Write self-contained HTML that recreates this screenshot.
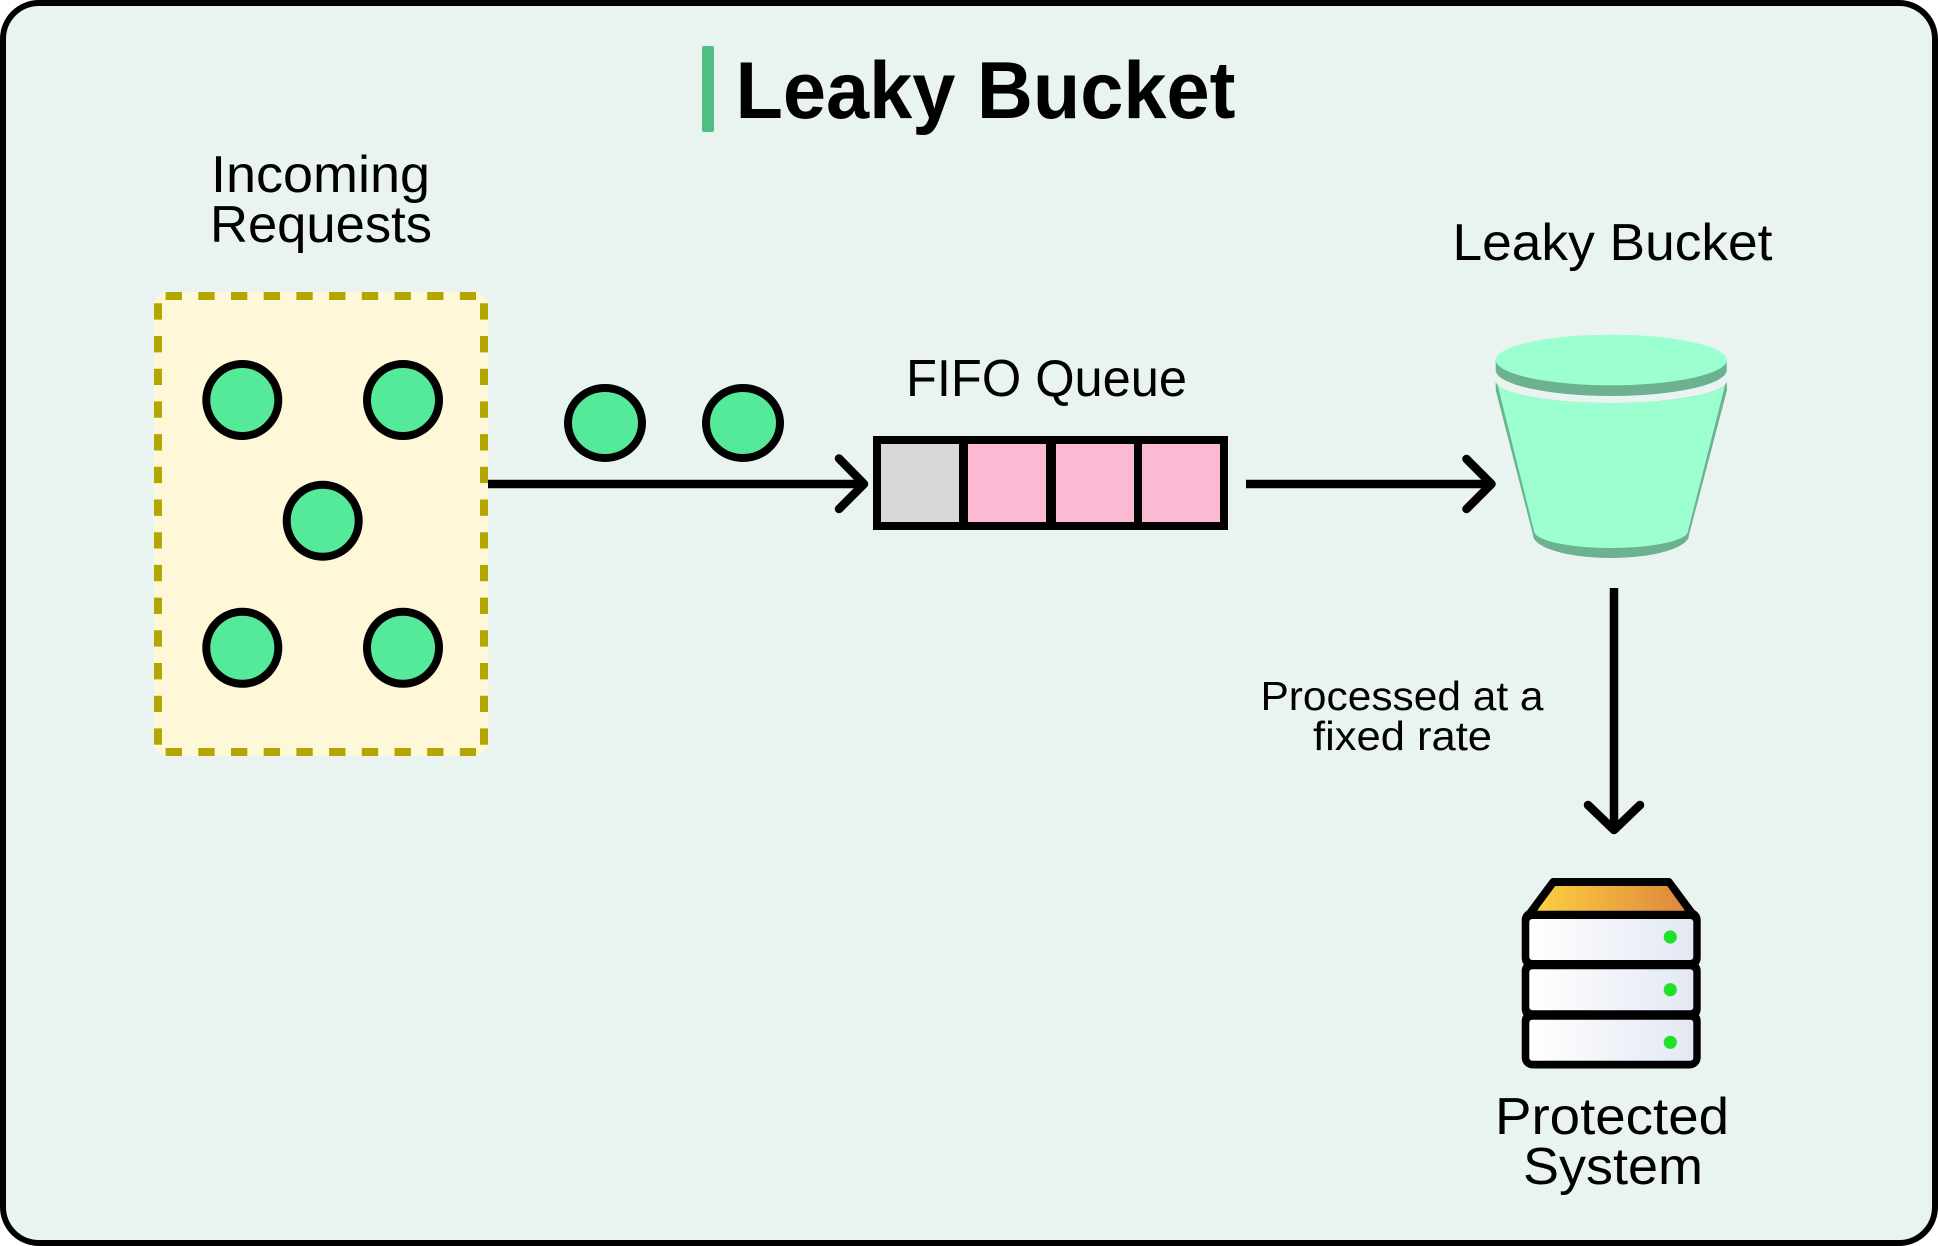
<!DOCTYPE html>
<html>
<head>
<meta charset="utf-8">
<style>
html,body{margin:0;padding:0;background:#fff;}
svg{display:block;}
text{font-family:"Liberation Sans",Arial,sans-serif;fill:#000;}
</style>
</head>
<body>
<svg xmlns="http://www.w3.org/2000/svg" width="1938" height="1246" viewBox="0 0 1938 1246">
<defs>
<linearGradient id="srv" x1="0" y1="0" x2="1" y2="0"><stop offset="0" stop-color="#ffffff"/><stop offset="1" stop-color="#e3e8f4"/></linearGradient>
<linearGradient id="roof" x1="0" y1="0" x2="1" y2="0"><stop offset="0" stop-color="#fdcf3f"/><stop offset="1" stop-color="#de873e"/></linearGradient>
<clipPath id="boxclip"><rect x="154" y="292" width="334" height="464" rx="14" ry="14"/></clipPath>
</defs>

<rect x="3" y="3" width="1932" height="1240" rx="36" ry="36" fill="#e9f4f0" stroke="#000" stroke-width="6"/>

<rect x="702" y="46" width="12" height="86" rx="2" fill="#50bd85"/>
<text x="735.5" y="118" font-size="81" font-weight="700" textLength="500" lengthAdjust="spacingAndGlyphs">Leaky Bucket</text>

<text x="211" y="192" font-size="52" textLength="219" lengthAdjust="spacingAndGlyphs">Incoming</text>
<text x="210" y="242" font-size="52" textLength="222" lengthAdjust="spacingAndGlyphs">Requests</text>

<rect x="154" y="292" width="334" height="464" rx="14" ry="14" fill="#fff8d8"/>
<g clip-path="url(#boxclip)" stroke="#b3a600" stroke-width="8" fill="none">
<line x1="158" y1="303.3" x2="158" y2="745" stroke-dasharray="16.35 16.35"/>
<line x1="484" y1="303.3" x2="484" y2="745" stroke-dasharray="16.35 16.35"/>
<line x1="165.6" y1="296" x2="476" y2="296" stroke-dasharray="16.35 16.35"/>
<line x1="165.6" y1="752" x2="476" y2="752" stroke-dasharray="16.35 16.35"/>
</g>

<g fill="#55ea9a" stroke="#000" stroke-width="8">
<circle cx="242.3" cy="400" r="36"/>
<circle cx="403" cy="400" r="36"/>
<circle cx="322.7" cy="520.7" r="36"/>
<circle cx="242.3" cy="647.8" r="36"/>
<circle cx="403" cy="647.8" r="36"/>
<ellipse cx="605" cy="423" rx="37" ry="35"/>
<ellipse cx="743" cy="423" rx="37" ry="35"/>
</g>

<g fill="none" stroke="#000" stroke-width="8.5" stroke-linecap="round" stroke-linejoin="round">
<line x1="488" y1="484" x2="864" y2="484" stroke-linecap="butt"/>
<polyline points="839,458.5 864,484 839,509"/>
<line x1="1246" y1="484" x2="1491" y2="484" stroke-linecap="butt"/>
<polyline points="1466.5,459 1491.5,484 1466.5,509"/>
<line x1="1614" y1="588" x2="1614" y2="830" stroke-linecap="butt"/>
<polyline points="1588,805 1614,830 1640,805"/>
</g>

<text x="906" y="396" font-size="52" textLength="281" lengthAdjust="spacingAndGlyphs">FIFO Queue</text>

<rect x="873" y="436" width="355" height="94" fill="#000"/>
<rect x="881" y="444" width="78" height="78" fill="#d8d8d8"/>
<rect x="968" y="444" width="78" height="78" fill="#fbb9d4"/>
<rect x="1056" y="444" width="78" height="78" fill="#fbb9d4"/>
<rect x="1142" y="444" width="78" height="78" fill="#fbb9d4"/>

<text x="1452.5" y="260" font-size="52" textLength="320" lengthAdjust="spacingAndGlyphs">Leaky Bucket</text>

<!-- bucket -->
<path d="M1495.7 381 A115.5 22 0 0 0 1726.7 381 L1727 390 L1689 535 A78 23 0 0 1 1533 535 L1495.7 390 Z" fill="#6cb190"/>
<path d="M1496.7 381.5 A114.5 21.5 0 0 0 1726 381.5 L1688 531 A77 17 0 0 1 1534 531 Z" fill="#9bffd0"/>
<path d="M1495.7 361 L1495.7 370 A115.5 26 0 0 0 1726.7 370 L1726.7 361 Z" fill="#6cb190"/>
<ellipse cx="1611.2" cy="360" rx="115.5" ry="25.3" fill="#9bffd0"/>

<!-- server -->
<polygon points="1528,916 1553.3,882 1668.7,882 1694,916" fill="url(#roof)" stroke="#000" stroke-width="8" stroke-linejoin="round"/>
<rect x="1521.7" y="909" width="179" height="60" rx="11" fill="#000"/>
<rect x="1521.7" y="960" width="179" height="60" rx="11" fill="#000"/>
<rect x="1521.7" y="1010" width="179" height="58.5" rx="11" fill="#000"/>
<rect x="1529.3" y="919" width="164" height="41" rx="3" fill="url(#srv)"/>
<rect x="1529.3" y="969.3" width="164" height="41" rx="3" fill="url(#srv)"/>
<rect x="1529.3" y="1019.7" width="164" height="41" rx="3" fill="url(#srv)"/>
<polygon points="1537.3,910.7 1555.3,886 1667.3,886 1685,910.7" fill="url(#roof)"/>
<circle cx="1670.3" cy="937" r="6.6" fill="#1fe02a"/>
<circle cx="1670.3" cy="989.7" r="6.6" fill="#1fe02a"/>
<circle cx="1670.3" cy="1042.3" r="6.6" fill="#1fe02a"/>

<text x="1495" y="1134" font-size="52" textLength="234" lengthAdjust="spacingAndGlyphs">Protected</text>
<text x="1523" y="1184" font-size="52" textLength="180" lengthAdjust="spacingAndGlyphs">System</text>

<text x="1260.5" y="710" font-size="41" textLength="283" lengthAdjust="spacingAndGlyphs">Processed at a</text>
<text x="1313" y="750" font-size="41" textLength="179" lengthAdjust="spacingAndGlyphs">fixed rate</text>
</svg>
</body>
</html>
